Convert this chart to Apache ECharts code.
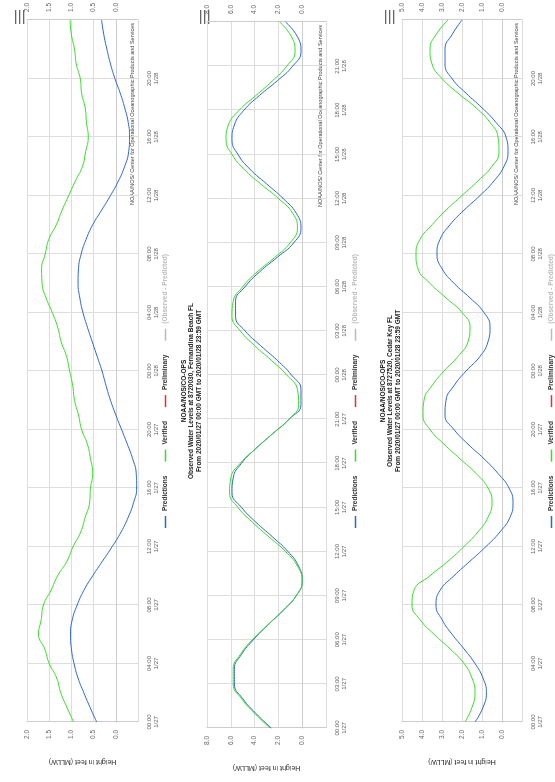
<!DOCTYPE html>
<html><head><meta charset="utf-8">
<script src="https://cdn.jsdelivr.net/npm/echarts@6/dist/echarts.min.js"></script>
<style>
html,body{margin:0;padding:0;background:#fff;width:555px;height:782px;overflow:hidden;position:relative}
.wrap{position:absolute;top:0;height:782px;overflow:visible}
.inner{position:absolute;left:0;top:782px;width:782px;transform-origin:0 0;transform:rotate(-90deg)}
</style></head><body>
<div class="wrap" id="w0"><div class="inner" id="c0"></div></div>
<div class="wrap" id="w1"><div class="inner" id="c1"></div></div>
<div class="wrap" id="w2"><div class="inner" id="c2"></div></div>
<script>
// hours since 2020/01/27 00:00 GMT
const hours = Array.from({length:49},(_,i)=>i);
const seriesNames = ["Predictions","Verified","Preliminary","(Observed - Predicted)"];

const pensacolaTitle = ["NOAA/NOS/CO-OPS","Observed Water Levels at 8729840, Pensacola FL","From 2020/01/27 00:00 GMT to 2020/01/28 23:59 GMT"];
const pensacolaPred = [0.43,0.58,0.72,0.85,0.94,1.0,1.02,0.98,0.87,0.72,0.52,0.3,0.08,-0.12,-0.28,-0.4,-0.47,-0.46,-0.38,-0.26,-0.13,0.0,0.12,0.22,0.31,0.42,0.53,0.64,0.74,0.81,0.85,0.84,0.78,0.67,0.52,0.32,0.12,-0.06,-0.2,-0.29,-0.31,-0.28,-0.2,-0.1,0.02,0.12,0.2,0.27,0.32];
const pensacolaVer = [0.95,1.1,1.24,1.33,1.5,1.6,1.74,1.68,1.63,1.46,1.31,1.1,0.96,0.79,0.69,0.59,0.57,0.52,0.57,0.64,0.77,0.84,0.93,0.97,1.04,1.11,1.23,1.31,1.43,1.57,1.66,1.67,1.59,1.51,1.34,1.21,1.06,0.91,0.75,0.68,0.62,0.66,0.69,0.77,0.8,0.89,0.93,1.0,1.03];

const fernTitle = ["NOAA/NOS/CO-OPS","Observed Water Levels at 8720030, Fernandina Beach FL","From 2020/01/27 00:00 GMT to 2020/01/28 23:59 GMT"];
const fernPred = [2.6,3.9,5.0,5.7,5.7,5.1,4.1,2.9,1.6,0.5,0.0,0.3,1.2,2.5,3.9,5.1,5.9,5.8,5.1,3.9,2.5,1.1,0.1,0.1,0.9,2.1,3.5,4.8,5.6,5.6,4.8,3.6,2.1,0.7,0.1,0.5,1.6,3.0,4.4,5.4,5.9,5.7,4.9,3.6,2.1,0.8,0.1,0.4,1.4];
const fernVer = [2.7,4.0,5.1,5.8,5.8,5.2,4.2,2.9,1.6,0.5,0.0,0.4,1.4,2.8,4.2,5.4,6.1,6.0,5.2,3.9,2.5,1.1,0.3,0.4,1.3,2.6,4.0,5.2,5.9,5.8,5.0,3.8,2.3,1.0,0.4,0.8,2.0,3.5,4.9,5.9,6.4,6.2,5.3,3.9,2.5,1.3,0.6,0.9,1.9];

const cedarTitle = ["NOAA/NOS/CO-OPS","Observed Water Levels at 8727520, Cedar Key FL","From 2020/01/27 00:00 GMT to 2020/01/28 23:59 GMT"];
const cedarPred = [1.35,0.95,0.78,0.95,1.35,1.9,2.5,3.0,3.3,3.1,2.4,1.6,0.8,0.1,-0.4,-0.55,-0.35,0.2,0.9,1.7,2.4,2.85,2.8,2.4,1.8,1.1,0.7,0.6,0.9,1.6,2.4,3.0,3.25,3.1,2.6,1.9,1.1,0.4,-0.1,-0.3,-0.2,0.3,1.0,1.8,2.5,2.85,2.85,2.5,2.0];
const cedarVer = [1.85,1.5,1.35,1.5,1.9,2.6,3.4,4.1,4.5,4.4,3.6,2.7,1.9,1.2,0.7,0.5,0.7,1.3,2.1,2.9,3.6,3.95,3.9,3.5,2.9,2.2,1.7,1.6,2.0,2.8,3.6,4.2,4.3,4.1,3.5,2.8,2.0,1.2,0.5,0.15,0.2,0.6,1.3,2.2,3.0,3.5,3.6,3.3,2.7];

const charts = [
 {id:0, left:-40, h:215, gTop:67, gH:111, gLeft:60, gRight:20, legTop:197, burger:55, tTop:3, title:pensacolaTitle, pred:pensacolaPred, ver:pensacolaVer, min:-0.5, max:2, step:0.5, tstep:4},
 {id:1, left:175, h:190, gTop:32, gH:119, gLeft:54, gRight:22, legTop:172, burger:25, tTop:0, title:fernTitle, pred:fernPred, ver:fernVer, min:-2, max:8, step:2, tstep:3},
 {id:2, left:377, h:180, gTop:25, gH:120, gLeft:60, gRight:20, legTop:166, burger:8, tTop:-3, title:cedarTitle, pred:cedarPred, ver:cedarVer, min:-1, max:5, step:1, tstep:4}
];
const FONT = "Liberation Sans";
const pad = n => (n<10?'0':'')+n;
charts.forEach(c=>{
  const w = document.getElementById('w'+c.id);
  w.style.left = c.left+'px'; w.style.width = c.h+'px';
  const el = document.getElementById('c'+c.id);
  el.style.height = c.h+'px';
  const ch = echarts.init(el, null, {renderer:'canvas', width:782, height:c.h});
  const yAx = pos => ({type:'value', position:pos, min:c.min, max:c.max, interval:c.step,
      name: pos==='left' ? 'Height in feet (MLLW)' : '', nameLocation:'middle', nameGap:36,
      nameTextStyle:{fontFamily:FONT,fontSize:7,color:'#333'},
      axisLabel:{showMinLabel:false,fontFamily:FONT,fontSize:6.5,color:'#666',margin:8,formatter:v=>v.toFixed(1)},
      axisLine:{show:true,lineStyle:{color:'#ccc'}}, axisTick:{show:false},
      splitLine:{show:pos==='left',lineStyle:{color:'#ddd'}}});
  ch.setOption({
    animation:false,
    title:{text:c.title.join('\n'), left:'center', top:c.tTop,
      textStyle:{fontFamily:FONT,fontSize:6.5,fontWeight:'bold',lineHeight:7.5,color:'#222'}},
    grid:{left:c.gLeft,right:c.gRight,top:c.gTop,height:c.gH},
    legend:{top:c.legTop,left:'center',icon:'rect',itemWidth:12,itemHeight:1.5,itemGap:14,
      textStyle:{fontFamily:FONT,fontSize:6.5,fontWeight:'bold',color:'#333'},
      inactiveColor:'#bbb',
      data:seriesNames, selected:{'(Observed - Predicted)':false}},
    xAxis:{type:'value',min:0,max:48,interval:c.tstep,
      axisLabel:{showMaxLabel:false,fontFamily:FONT,fontSize:6,color:'#666',lineHeight:7,
        formatter:v=>pad(v%24)+':00\n1/'+(27+Math.floor(v/24))},
      axisLine:{show:true,lineStyle:{color:'#ccc'}},axisTick:{show:false},
      splitLine:{show:true,lineStyle:{color:'#ddd'}}},
    yAxis:[yAx('left'),yAx('right')],
    graphic:[
      {type:'text',right:c.gRight+3,top:c.gTop+c.gH-9,style:{text:'NOAA/NOS/ Center for Operational Oceanographic Products and Services',font:'5.5px '+FONT,fill:'#444'}},
      {type:'group',right:10,top:c.burger,children:[
        {type:'rect',shape:{x:0,y:0,width:14,height:1.3},style:{fill:'#666'}},
        {type:'rect',shape:{x:0,y:4,width:14,height:1.3},style:{fill:'#666'}},
        {type:'rect',shape:{x:0,y:8,width:14,height:1.3},style:{fill:'#666'}}]}
    ],
    series:[
      {name:seriesNames[0],type:'line',data:hours.map((h,i)=>[h,c.pred[i]]),smooth:true,showSymbol:false,lineStyle:{width:1,color:'#2a64d6'},itemStyle:{color:'#2a64d6'}},
      {name:seriesNames[1],type:'line',data:hours.map((h,i)=>[h,c.ver[i]]),smooth:true,showSymbol:false,lineStyle:{width:1,color:'#33dd22'},itemStyle:{color:'#33dd22'}},
      {name:seriesNames[2],type:'line',data:[],lineStyle:{color:'#e03030'},itemStyle:{color:'#e03030'}},
      {name:seriesNames[3],type:'line',data:[],lineStyle:{color:'#999'},itemStyle:{color:'#999'}}
    ]
  });
});
</script>
</body></html>
